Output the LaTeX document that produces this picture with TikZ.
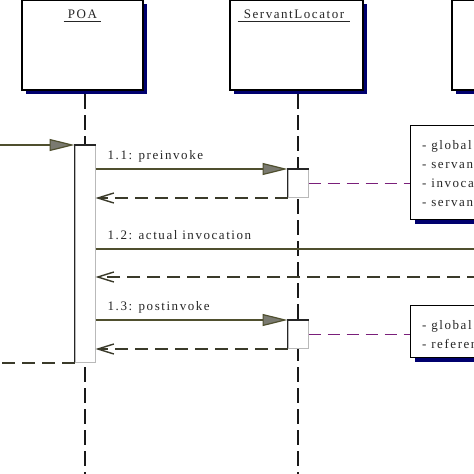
\documentclass[tikz,border=0pt]{standalone}
\usepackage{fontspec}
\setmainfont{Liberation Serif}[LetterSpace=12]
\usetikzlibrary{arrows.meta,shadows,positioning}

\definecolor{msgline}{HTML}{4F4F2E}
\definecolor{retline}{HTML}{3A3A2A}
\definecolor{linkline}{HTML}{7A1F7A}
\definecolor{shadownavy}{HTML}{00006E}
\definecolor{tipgrey}{HTML}{7A7A70}

\tikzset{
  navyshadow/.style={drop shadow={shadow xshift=4pt, shadow yshift=-4pt, fill=shadownavy, opacity=1}},
  objbox/.style={draw=black, line width=1.1pt, fill=white, inner sep=0pt, minimum height=90pt, navyshadow},
  notebox/.style={draw=black, line width=1.1pt, fill=white, inner sep=0pt, anchor=north west, navyshadow},
  objname/.style={anchor=base, inner sep=0pt, text=black!85},
  nameline/.style={line width=1pt, black!85},
  lifeline/.style={line width=1.6pt, black!90, dash pattern=on 15pt off 6pt},
  actbox/.style={draw=gray!55, fill=white, line width=1pt, minimum width=20pt, inner sep=0pt, anchor=north},
  actedge/.style={line width=1.5pt, black!85},
  msg/.style={line width=1.2pt, msgline, -{Triangle[length=25pt, width=12pt, fill=tipgrey]}},
  ret/.style={line width=1.4pt, retline, dash pattern=on 13pt off 7pt, -{Straight Barb[length=16pt, width=10pt]}},
  notelink/.style={line width=1.6pt, draw=linkline, dash pattern=on 12pt off 7pt},
  msglabel/.style={anchor=base west, inner sep=0pt, text=black!85},
  notetext/.style={anchor=base west, inner sep=0pt, text=black!85}
}

\begin{document}
\begin{tikzpicture}[x=1pt, y=-1pt, font=\fontsize{13pt}{15pt}\selectfont]
\useasboundingbox (0,0) rectangle (474,474);
\clip (0,0) rectangle (474,474);

% objects
\node[objbox, minimum width=121pt] (poa) at (82.5,45) {};
\node[objbox, minimum width=133pt] (locator) at (296.5,45) {};
\node[objbox, minimum width=133pt] (servant) at (518.5,45) {};

\node[objname] (poaName) at (82.5,18) {POA};
\node[objname] (locatorName) at (294,18) {ServantLocator};
\draw[nameline] ([shift={(-4pt,-3pt)}]poaName.base west) -- ([shift={(4pt,-3pt)}]poaName.base east);
\draw[nameline] ([shift={(-6pt,-3pt)}]locatorName.base west) -- ([shift={(6pt,-3pt)}]locatorName.base east);

% lifelines
\coordinate (poaLine) at (85,94);
\coordinate (locatorLine) at (298,94);
\draw[lifeline] (poaLine) -- (poaLine |- 0,480);
\draw[lifeline] (locatorLine) -- (locatorLine |- 0,480);

% activations
\node[actbox, minimum height=217pt] (poaAct) at (poaLine |- 0,145) {};
\node[actbox, minimum height=28pt] (locAct1) at (locatorLine |- 0,169) {};
\node[actbox, minimum height=28pt] (locAct2) at (locatorLine |- 0,320) {};
\foreach \act in {poaAct, locAct1, locAct2}
  \draw[actedge] (\act.south west) -- (\act.north west) -- (\act.north east);

% caller and servant ends
\coordinate (caller) at (-30,0);
\coordinate (servantIn) at (500,249);
\coordinate (servantOut) at (500,277);

% messages
\draw[msg] (caller |- poaAct.north) -- (poaAct.north west);
\draw[ret] (poaAct.south west) -- (caller |- poaAct.south);

\draw[msg] (poaAct.east |- locAct1.north) -- (locAct1.north west);
\node[msglabel] at ([shift={(12pt,10pt)}]poaAct.east |- locAct1.north) {1.1: preinvoke};
\draw[ret] (locAct1.south west) -- (poaAct.east |- locAct1.south);

\draw[msg] (poaAct.east |- servantIn) -- (servantIn);
\node[msglabel] at ([shift={(12pt,10pt)}]poaAct.east |- servantIn) {1.2: actual invocation};
\draw[ret] (servantOut) -- (poaAct.east |- servantOut);

\draw[msg] (poaAct.east |- locAct2.north) -- (locAct2.north west);
\node[msglabel] at ([shift={(12pt,10pt)}]poaAct.east |- locAct2.north) {1.3: postinvoke};
\draw[ret] (locAct2.south west) -- (poaAct.east |- locAct2.south);

% notes
\node[notebox, minimum width=150pt, minimum height=94pt] (note1) at (410,125) {};
\node[notebox, minimum width=150pt, minimum height=52pt] (note2) at (410,305) {};
\foreach \txt [count=\i] in {global, servant, invocation, servant}
  \node[notetext] at ([shift={(12,{5+19*\i})}]note1.north west) {- \txt};
\foreach \txt [count=\i] in {global, reference}
  \node[notetext] at ([shift={(12,{5+19*\i})}]note2.north west) {- \txt};

\draw[notelink] (locAct1.east) -- (locAct1.east -| note1.west);
\draw[notelink] (locAct2.east) -- (locAct2.east -| note2.west);
\end{tikzpicture}
\end{document}
